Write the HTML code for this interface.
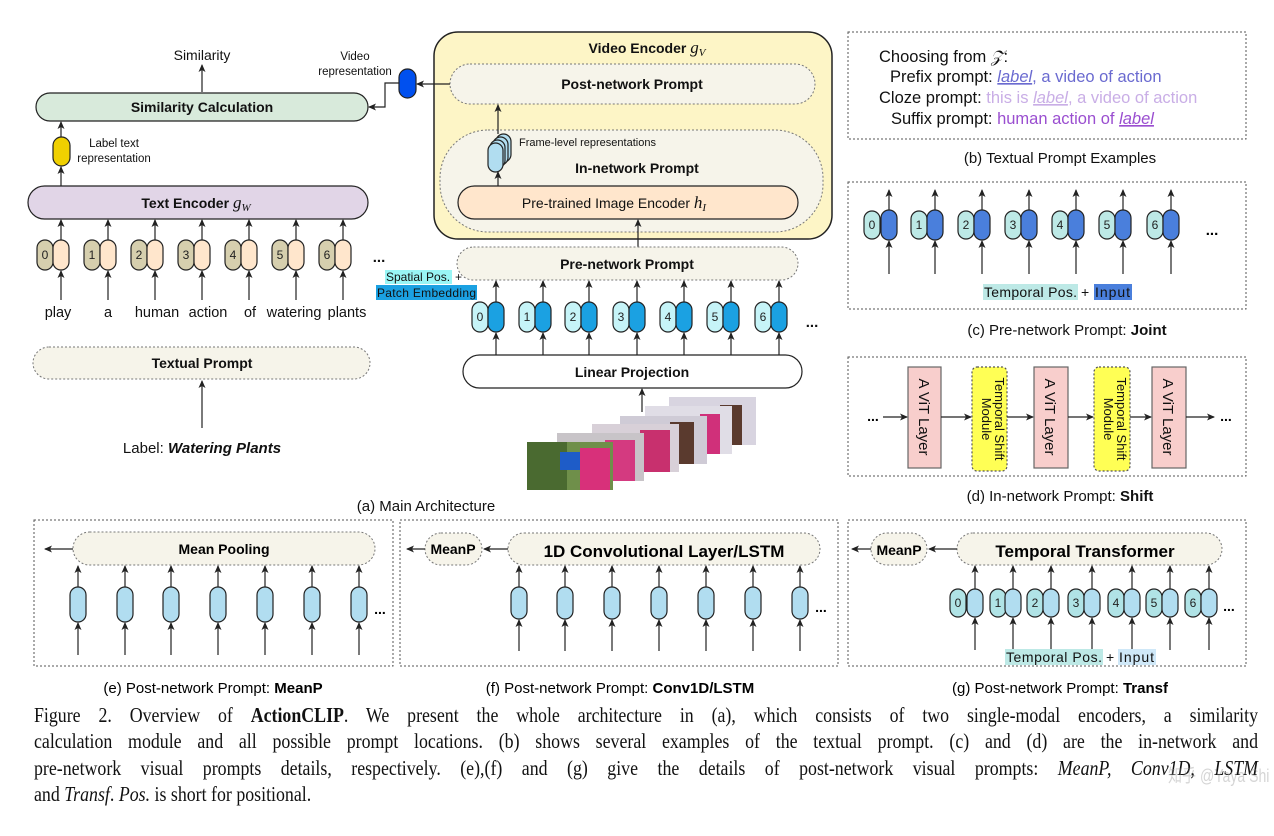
<!DOCTYPE html>
<html><head><meta charset="utf-8"><style>
body{margin:0;background:#fff;width:1274px;height:836px;overflow:hidden;position:relative;font-family:"Liberation Sans",sans-serif}
.cap{position:absolute;left:34px;width:1440px;font-family:"Liberation Serif",serif;font-size:21px;color:#111;transform:scaleX(0.85);transform-origin:0 0}
.cap div{text-align:justify;text-align-last:justify;height:26.3px;white-space:nowrap}
.cap div.last{text-align-last:left}
</style></head><body>
<svg width="1274" height="836" viewBox="0 0 1274 836" style="position:absolute;left:0;top:0" font-family="Liberation Sans, sans-serif">
<defs>
<marker id="a" markerUnits="userSpaceOnUse" markerWidth="8" markerHeight="8" refX="7" refY="4" orient="auto"><path d="M0,0.5 L8,4 L0,7.5 L2,4z" fill="#222"/></marker>
</defs>
<g stroke="#222" stroke-width="1.2" fill="none">
<line x1="202" y1="92" x2="202" y2="65" marker-end="url(#a)"/>
<rect x="36" y="93" width="332" height="28" rx="14" fill="#d8eadb"/>
<line x1="61" y1="137" x2="61" y2="122" marker-end="url(#a)"/>
<rect x="53" y="137" width="17" height="29" rx="8.5" fill="#f0d000"/>
<line x1="61" y1="186" x2="61" y2="167" marker-end="url(#a)"/>
<rect x="28" y="186" width="340" height="33" rx="16.5" fill="#e1d5e7"/>
<rect x="33" y="347" width="337" height="32" rx="16" fill="#f6f4ea" stroke-dasharray="2,2" stroke="#777" stroke-width="1"/>
<line x1="202" y1="428" x2="202" y2="381" marker-end="url(#a)"/>
</g>
<g font-size="14" fill="#111" text-anchor="middle">
<text x="202" y="60">Similarity</text>
<text x="202" y="112" font-weight="bold">Similarity Calculation</text>
<text x="196" y="208" font-weight="bold">Text Encoder <tspan font-family="Liberation Serif" font-style="italic" font-weight="normal" font-size="17">g<tspan font-size="11" dy="3">W</tspan></tspan></text>
<text x="202" y="368" font-weight="bold">Textual Prompt</text>
<text x="202" y="453" font-size="15">Label: <tspan font-weight="bold" font-style="italic">Watering Plants</tspan></text>
<text x="114" y="147" font-size="11.5">Label text</text>
<text x="114" y="162" font-size="11.5">representation</text>
<text x="355" y="60" font-size="11.5">Video</text>
<text x="355" y="75" font-size="11.5">representation</text>
<text x="426" y="511" font-size="15">(a) Main Architecture</text>
<g font-size="14.5">
<text x="58" y="317">play</text><text x="108" y="317">a</text><text x="157" y="317">human</text><text x="208" y="317">action</text><text x="250" y="317">of</text><text x="294" y="317">watering</text><text x="347" y="317">plants</text>
</g>
<text x="379" y="262" font-size="15" font-weight="bold">...</text>
</g>
<g stroke="#222" stroke-width="1.2">
<g fill="#d6cfae"><rect x="37" y="240" width="16" height="30" rx="8"/><rect x="84" y="240" width="16" height="30" rx="8"/><rect x="131" y="240" width="16" height="30" rx="8"/><rect x="178" y="240" width="16" height="30" rx="8"/><rect x="225" y="240" width="16" height="30" rx="8"/><rect x="272" y="240" width="16" height="30" rx="8"/><rect x="319" y="240" width="16" height="30" rx="8"/></g>
<g fill="#ffe6cc"><rect x="53" y="240" width="16" height="30" rx="8"/><rect x="100" y="240" width="16" height="30" rx="8"/><rect x="147" y="240" width="16" height="30" rx="8"/><rect x="194" y="240" width="16" height="30" rx="8"/><rect x="241" y="240" width="16" height="30" rx="8"/><rect x="288" y="240" width="16" height="30" rx="8"/><rect x="335" y="240" width="16" height="30" rx="8"/></g>
<g fill="none" marker-end="url(#a)">
<line x1="61" y1="300" x2="61" y2="271"/><line x1="108" y1="300" x2="108" y2="271"/><line x1="155" y1="300" x2="155" y2="271"/><line x1="202" y1="300" x2="202" y2="271"/><line x1="249" y1="300" x2="249" y2="271"/><line x1="296" y1="300" x2="296" y2="271"/><line x1="343" y1="300" x2="343" y2="271"/>
<line x1="61" y1="240" x2="61" y2="220"/><line x1="108" y1="240" x2="108" y2="220"/><line x1="155" y1="240" x2="155" y2="220"/><line x1="202" y1="240" x2="202" y2="220"/><line x1="249" y1="240" x2="249" y2="220"/><line x1="296" y1="240" x2="296" y2="220"/><line x1="343" y1="240" x2="343" y2="220"/>
</g></g>
<g font-size="12" fill="#222" text-anchor="middle"><text x="45" y="259">0</text><text x="92" y="259">1</text><text x="139" y="259">2</text><text x="186" y="259">3</text><text x="233" y="259">4</text><text x="280" y="259">5</text><text x="327" y="259">6</text></g>

<g stroke="#222" stroke-width="1.2" fill="none">
<rect x="434" y="32" width="398" height="207" rx="24" fill="#fdf5c6" stroke-width="1.5"/>
<rect x="450" y="64" width="365" height="40" rx="20" fill="#f6f4ea" stroke="#777" stroke-dasharray="2,2" stroke-width="1"/>
<rect x="440" y="130" width="383" height="102" rx="48" fill="#f6f4ea" stroke="#777" stroke-dasharray="2,2" stroke-width="1"/>
<rect x="458" y="186" width="340" height="33" rx="16.5" fill="#ffe6cc"/>
<line x1="450" y1="84" x2="417" y2="84" marker-end="url(#a)"/>
<rect x="399" y="69" width="17" height="29" rx="8.5" fill="#0050ef"/>
<polyline points="399,83 385,83 385,107 369,107" marker-end="url(#a)"/>
<line x1="498" y1="134" x2="498" y2="105" marker-end="url(#a)"/>
<line x1="498" y1="186" x2="498" y2="172" marker-end="url(#a)"/>
<rect x="496" y="134" width="15" height="28" rx="7.5" fill="#b1ddf0"/>
<rect x="493" y="137" width="15" height="28" rx="7.5" fill="#b1ddf0"/>
<rect x="490" y="140" width="15" height="28" rx="7.5" fill="#b1ddf0"/>
<rect x="488" y="143" width="15" height="29" rx="7.5" fill="#b1ddf0"/>
<line x1="638" y1="247" x2="638" y2="220" marker-end="url(#a)"/>
<rect x="457" y="247" width="341" height="33" rx="16.5" fill="#f6f4ea" stroke="#777" stroke-dasharray="2,2" stroke-width="1"/>
<rect x="463" y="355" width="339" height="33" rx="16.5" fill="#fff"/>
<line x1="642" y1="412" x2="642" y2="389" marker-end="url(#a)"/>
</g>
<g font-size="14" fill="#111" text-anchor="middle">
<text x="647" y="53" font-weight="bold">Video Encoder <tspan font-family="Liberation Serif" font-style="italic" font-weight="normal" font-size="17">g<tspan font-size="11" dy="3">V</tspan></tspan></text>
<text x="632" y="89" font-weight="bold">Post-network Prompt</text>
<text x="637" y="173" font-weight="bold">In-network Prompt</text>
<text x="519" y="146" font-size="11" text-anchor="start">Frame-level representations</text>
<text x="614" y="208" font-size="14">Pre-trained Image Encoder <tspan font-family="Liberation Serif" font-style="italic" font-size="17">h<tspan font-size="11" dy="3">I</tspan></tspan></text>
<text x="627" y="269" font-weight="bold">Pre-network Prompt</text>
<text x="632" y="377" font-weight="bold">Linear Projection</text>
<text x="812" y="327" font-size="15" font-weight="bold">...</text>
</g>
<rect x="385" y="270" width="67" height="14" fill="#99f5f5"/>
<rect x="376" y="285" width="101" height="15" fill="#1ba1e2"/>
<g font-size="12" fill="#111"><text x="386" y="281">Spatial Pos.</text><text x="455" y="281">+</text><text x="377" y="297" textLength="99">Patch  Embedding</text></g>
<g stroke="#222" stroke-width="1.2">
<g fill="#c6f4f8"><rect x="472" y="302" width="16" height="30" rx="8"/><rect x="519" y="302" width="16" height="30" rx="8"/><rect x="565" y="302" width="16" height="30" rx="8"/><rect x="613" y="302" width="16" height="30" rx="8"/><rect x="660" y="302" width="16" height="30" rx="8"/><rect x="707" y="302" width="16" height="30" rx="8"/><rect x="755" y="302" width="16" height="30" rx="8"/></g>
<g fill="#1ba1e2"><rect x="488" y="302" width="16" height="30" rx="8"/><rect x="535" y="302" width="16" height="30" rx="8"/><rect x="581" y="302" width="16" height="30" rx="8"/><rect x="629" y="302" width="16" height="30" rx="8"/><rect x="676" y="302" width="16" height="30" rx="8"/><rect x="723" y="302" width="16" height="30" rx="8"/><rect x="771" y="302" width="16" height="30" rx="8"/></g>
<g fill="none" marker-end="url(#a)">
<line x1="496" y1="355" x2="496" y2="333"/><line x1="543" y1="355" x2="543" y2="333"/><line x1="589" y1="355" x2="589" y2="333"/><line x1="637" y1="355" x2="637" y2="333"/><line x1="684" y1="355" x2="684" y2="333"/><line x1="731" y1="355" x2="731" y2="333"/><line x1="779" y1="355" x2="779" y2="333"/>
<line x1="496" y1="302" x2="496" y2="281"/><line x1="543" y1="302" x2="543" y2="281"/><line x1="589" y1="302" x2="589" y2="281"/><line x1="637" y1="302" x2="637" y2="281"/><line x1="684" y1="302" x2="684" y2="281"/><line x1="731" y1="302" x2="731" y2="281"/><line x1="779" y1="302" x2="779" y2="281"/>
</g></g>
<g font-size="12" fill="#222" text-anchor="middle"><text x="480" y="321">0</text><text x="527" y="321">1</text><text x="573" y="321">2</text><text x="621" y="321">3</text><text x="668" y="321">4</text><text x="715" y="321">5</text><text x="763" y="321">6</text></g>
<g>
<rect x="669" y="397" width="87" height="48" fill="#d8d4e0"/><rect x="720" y="405" width="22" height="40" fill="#5a3a2e"/>
<rect x="645" y="406" width="87" height="48" fill="#e0dde6"/><rect x="700" y="414" width="20" height="40" fill="#d0307a"/>
<rect x="620" y="416" width="87" height="48" fill="#cfcbd6"/><rect x="670" y="422" width="24" height="42" fill="#5a3a2e"/>
<rect x="592" y="424" width="87" height="48" fill="#d8d0d8"/><rect x="640" y="430" width="30" height="42" fill="#c8306e"/>
<rect x="557" y="433" width="87" height="48" fill="#c8c4c8"/><rect x="605" y="440" width="30" height="41" fill="#d43a80"/>
<rect x="527" y="442" width="86" height="48" fill="#6f8f4a"/><rect x="527" y="442" width="40" height="48" fill="#4a6a30"/><rect x="560" y="452" width="20" height="18" fill="#1e5cc8"/><rect x="580" y="448" width="30" height="42" fill="#d8307a"/>
</g>

<rect x="848" y="32" width="398" height="107" fill="none" stroke="#555" stroke-dasharray="2,2"/>
<g font-size="16.5" fill="#111">
<text x="879" y="62">Choosing from <tspan font-family="Liberation Serif" font-style="italic">𝒵</tspan>:</text>
<text x="890" y="82">Prefix prompt:  <tspan fill="#6a6ad0"><tspan font-style="italic" text-decoration="underline">label</tspan>,  a video of action</tspan></text>
<text x="879" y="103">Cloze prompt: <tspan fill="#c9aee6">this is <tspan font-style="italic" text-decoration="underline">label</tspan>, a video of action</tspan></text>
<text x="891" y="124">Suffix prompt: <tspan fill="#9a4ed0">human action of  <tspan font-style="italic" text-decoration="underline">label</tspan></tspan></text>
</g>
<text x="1060" y="163" font-size="15" text-anchor="middle" fill="#111">(b) Textual Prompt Examples</text>
<rect x="848" y="182" width="398" height="127" fill="none" stroke="#555" stroke-dasharray="2,2"/>
<g stroke="#222" stroke-width="1.2">
<g fill="#bde9e6"><rect x="864" y="211" width="16" height="28" rx="8"/><rect x="911" y="211" width="16" height="28" rx="8"/><rect x="958" y="211" width="16" height="28" rx="8"/><rect x="1005" y="211" width="16" height="28" rx="8"/><rect x="1052" y="211" width="16" height="28" rx="8"/><rect x="1099" y="211" width="16" height="28" rx="8"/><rect x="1147" y="211" width="16" height="28" rx="8"/></g>
<g fill="#4a7fdc"><rect x="881" y="210" width="16" height="30" rx="8"/><rect x="927" y="210" width="16" height="30" rx="8"/><rect x="974" y="210" width="16" height="30" rx="8"/><rect x="1021" y="210" width="16" height="30" rx="8"/><rect x="1068" y="210" width="16" height="30" rx="8"/><rect x="1115" y="210" width="16" height="30" rx="8"/><rect x="1163" y="210" width="16" height="30" rx="8"/></g>
<g fill="none" marker-end="url(#a)">
<line x1="889" y1="274" x2="889" y2="241"/><line x1="935" y1="274" x2="935" y2="241"/><line x1="982" y1="274" x2="982" y2="241"/><line x1="1029" y1="274" x2="1029" y2="241"/><line x1="1076" y1="274" x2="1076" y2="241"/><line x1="1123" y1="274" x2="1123" y2="241"/><line x1="1171" y1="274" x2="1171" y2="241"/>
<line x1="889" y1="210" x2="889" y2="190"/><line x1="935" y1="210" x2="935" y2="190"/><line x1="982" y1="210" x2="982" y2="190"/><line x1="1029" y1="210" x2="1029" y2="190"/><line x1="1076" y1="210" x2="1076" y2="190"/><line x1="1123" y1="210" x2="1123" y2="190"/><line x1="1171" y1="210" x2="1171" y2="190"/>
</g></g>
<g font-size="12" fill="#222" text-anchor="middle"><text x="872" y="229">0</text><text x="919" y="229">1</text><text x="966" y="229">2</text><text x="1013" y="229">3</text><text x="1060" y="229">4</text><text x="1107" y="229">5</text><text x="1155" y="229">6</text></g>
<text x="1212" y="235" font-size="15" font-weight="bold" text-anchor="middle">...</text>
<rect x="983" y="284" width="95" height="16" fill="#bde9e6"/><rect x="1094" y="284" width="38" height="16" fill="#4a7fdc"/>
<g font-size="14" fill="#111"><text x="984" y="297" textLength="93">Temporal Pos.</text><text x="1081" y="297">+</text><text x="1095" y="297" textLength="35">Input</text></g>
<text x="1067" y="335" font-size="15" text-anchor="middle" fill="#111">(c) Pre-network Prompt: <tspan font-weight="bold">Joint</tspan></text>
<rect x="848" y="357" width="398" height="119" fill="none" stroke="#555" stroke-dasharray="2,2"/>
<g stroke="#222" stroke-width="1.2" fill="none">
<rect x="908" y="367" width="33" height="101" fill="#f8cecc" stroke="#666"/>
<rect x="1034" y="367" width="34" height="101" fill="#f8cecc" stroke="#666"/>
<rect x="1152" y="367" width="34" height="101" fill="#f8cecc" stroke="#666"/>
<rect x="972" y="367" width="35" height="104" rx="5" fill="#ffff55" stroke="#555" stroke-dasharray="2,2"/>
<rect x="1094" y="367" width="36" height="104" rx="5" fill="#ffff55" stroke="#555" stroke-dasharray="2,2"/>
<g marker-end="url(#a)"><line x1="883" y1="417" x2="907" y2="417"/><line x1="941" y1="417" x2="971" y2="417"/><line x1="1007" y1="417" x2="1033" y2="417"/><line x1="1068" y1="417" x2="1093" y2="417"/><line x1="1130" y1="417" x2="1151" y2="417"/><line x1="1186" y1="417" x2="1214" y2="417"/></g>
</g>
<g font-size="14" font-weight="bold"><text x="873" y="421" text-anchor="middle">...</text><text x="1226" y="421" text-anchor="middle">...</text></g>
<g font-size="15" fill="#111" text-anchor="middle">
<text transform="translate(919,417) rotate(90)">A ViT Layer</text>
<text transform="translate(1045,417) rotate(90)">A ViT Layer</text>
<text transform="translate(1163,417) rotate(90)">A ViT Layer</text>
<g font-size="13"><text transform="translate(995,419) rotate(90)">Temporal Shift</text><text transform="translate(982,419) rotate(90)">Module</text>
<text transform="translate(1117,419) rotate(90)">Temporal Shift</text><text transform="translate(1104,419) rotate(90)">Module</text></g>
<text x="1060" y="501">(d) In-network Prompt: <tspan font-weight="bold">Shift</tspan></text>
</g>

<rect x="34" y="520" width="359" height="146" fill="none" stroke="#555" stroke-dasharray="2,2"/>
<g stroke="#222" stroke-width="1.2" fill="none">
<rect x="73" y="532" width="302" height="33" rx="16.5" fill="#f6f4ea" stroke="#777" stroke-dasharray="2,2" stroke-width="1"/>
<line x1="73" y1="549" x2="45" y2="549" marker-end="url(#a)"/>
<g fill="#b1ddf0"><rect x="70" y="587" width="16" height="35" rx="8"/><rect x="117" y="587" width="16" height="35" rx="8"/><rect x="163" y="587" width="16" height="35" rx="8"/><rect x="210" y="587" width="16" height="35" rx="8"/><rect x="257" y="587" width="16" height="35" rx="8"/><rect x="304" y="587" width="16" height="35" rx="8"/><rect x="351" y="587" width="16" height="35" rx="8"/></g>
<g marker-end="url(#a)">
<line x1="78" y1="655" x2="78" y2="623"/><line x1="125" y1="655" x2="125" y2="623"/><line x1="171" y1="655" x2="171" y2="623"/><line x1="218" y1="655" x2="218" y2="623"/><line x1="265" y1="655" x2="265" y2="623"/><line x1="312" y1="655" x2="312" y2="623"/><line x1="359" y1="655" x2="359" y2="623"/>
<line x1="78" y1="587" x2="78" y2="566"/><line x1="125" y1="587" x2="125" y2="566"/><line x1="171" y1="587" x2="171" y2="566"/><line x1="218" y1="587" x2="218" y2="566"/><line x1="265" y1="587" x2="265" y2="566"/><line x1="312" y1="587" x2="312" y2="566"/><line x1="359" y1="587" x2="359" y2="566"/>
</g></g>
<text x="224" y="554" font-size="14" font-weight="bold" text-anchor="middle">Mean Pooling</text>
<text x="380" y="614" font-size="14" font-weight="bold" text-anchor="middle">...</text>
<text x="213" y="693" font-size="15" text-anchor="middle">(e) Post-network Prompt: <tspan font-weight="bold">MeanP</tspan></text>
<rect x="400" y="520" width="438" height="146" fill="none" stroke="#555" stroke-dasharray="2,2"/>
<g stroke="#222" stroke-width="1.2" fill="none">
<rect x="425" y="533" width="57" height="32" rx="16" fill="#f6f4ea" stroke="#777" stroke-dasharray="2,2" stroke-width="1"/>
<rect x="508" y="533" width="312" height="32" rx="16" fill="#f6f4ea" stroke="#777" stroke-dasharray="2,2" stroke-width="1"/>
<line x1="508" y1="549" x2="484" y2="549" marker-end="url(#a)"/>
<line x1="425" y1="549" x2="407" y2="549" marker-end="url(#a)"/>
<g fill="#b1ddf0"><rect x="511" y="587" width="16" height="32" rx="8"/><rect x="557" y="587" width="16" height="32" rx="8"/><rect x="604" y="587" width="16" height="32" rx="8"/><rect x="651" y="587" width="16" height="32" rx="8"/><rect x="698" y="587" width="16" height="32" rx="8"/><rect x="745" y="587" width="16" height="32" rx="8"/><rect x="792" y="587" width="16" height="32" rx="8"/></g>
<g marker-end="url(#a)">
<line x1="519" y1="651" x2="519" y2="620"/><line x1="565" y1="651" x2="565" y2="620"/><line x1="612" y1="651" x2="612" y2="620"/><line x1="659" y1="651" x2="659" y2="620"/><line x1="706" y1="651" x2="706" y2="620"/><line x1="753" y1="651" x2="753" y2="620"/><line x1="800" y1="651" x2="800" y2="620"/>
<line x1="519" y1="587" x2="519" y2="566"/><line x1="565" y1="587" x2="565" y2="566"/><line x1="612" y1="587" x2="612" y2="566"/><line x1="659" y1="587" x2="659" y2="566"/><line x1="706" y1="587" x2="706" y2="566"/><line x1="753" y1="587" x2="753" y2="566"/><line x1="800" y1="587" x2="800" y2="566"/>
</g></g>
<text x="453" y="554" font-size="14" font-weight="bold" text-anchor="middle">MeanP</text>
<text x="664" y="557" font-size="17" font-weight="bold" text-anchor="middle">1D Convolutional Layer/LSTM</text>
<text x="821" y="612" font-size="14" font-weight="bold" text-anchor="middle">...</text>
<text x="620" y="693" font-size="15" text-anchor="middle">(f) Post-network Prompt: <tspan font-weight="bold">Conv1D/LSTM</tspan></text>
<rect x="848" y="520" width="398" height="146" fill="none" stroke="#555" stroke-dasharray="2,2"/>
<g stroke="#222" stroke-width="1.2" fill="none">
<rect x="871" y="533" width="56" height="32" rx="16" fill="#f6f4ea" stroke="#777" stroke-dasharray="2,2" stroke-width="1"/>
<rect x="957" y="533" width="265" height="32" rx="16" fill="#f6f4ea" stroke="#777" stroke-dasharray="2,2" stroke-width="1"/>
<line x1="957" y1="549" x2="929" y2="549" marker-end="url(#a)"/>
<line x1="871" y1="549" x2="852" y2="549" marker-end="url(#a)"/>
<g fill="#b0e3e6"><rect x="950" y="589" width="16" height="28" rx="8"/><rect x="990" y="589" width="16" height="28" rx="8"/><rect x="1027" y="589" width="16" height="28" rx="8"/><rect x="1068" y="589" width="16" height="28" rx="8"/><rect x="1108" y="589" width="16" height="28" rx="8"/><rect x="1146" y="589" width="16" height="28" rx="8"/><rect x="1185" y="589" width="16" height="28" rx="8"/></g>
<g fill="#b1ddf0"><rect x="967" y="589" width="16" height="28" rx="8"/><rect x="1005" y="589" width="16" height="28" rx="8"/><rect x="1043" y="589" width="16" height="28" rx="8"/><rect x="1084" y="589" width="16" height="28" rx="8"/><rect x="1124" y="589" width="16" height="28" rx="8"/><rect x="1162" y="589" width="16" height="28" rx="8"/><rect x="1201" y="589" width="16" height="28" rx="8"/></g>
<g marker-end="url(#a)">
<line x1="975" y1="650" x2="975" y2="618"/><line x1="1013" y1="650" x2="1013" y2="618"/><line x1="1051" y1="650" x2="1051" y2="618"/><line x1="1092" y1="650" x2="1092" y2="618"/><line x1="1132" y1="650" x2="1132" y2="618"/><line x1="1170" y1="650" x2="1170" y2="618"/><line x1="1209" y1="650" x2="1209" y2="618"/>
<line x1="975" y1="589" x2="975" y2="566"/><line x1="1013" y1="589" x2="1013" y2="566"/><line x1="1051" y1="589" x2="1051" y2="566"/><line x1="1092" y1="589" x2="1092" y2="566"/><line x1="1132" y1="589" x2="1132" y2="566"/><line x1="1170" y1="589" x2="1170" y2="566"/><line x1="1209" y1="589" x2="1209" y2="566"/>
</g></g>
<g font-size="12" fill="#222" text-anchor="middle"><text x="958" y="607">0</text><text x="998" y="607">1</text><text x="1035" y="607">2</text><text x="1076" y="607">3</text><text x="1116" y="607">4</text><text x="1154" y="607">5</text><text x="1193" y="607">6</text></g>
<text x="1229" y="611" font-size="14" font-weight="bold" text-anchor="middle">...</text>
<text x="899" y="555" font-size="14" font-weight="bold" text-anchor="middle">MeanP</text>
<text x="1085" y="557" font-size="17" font-weight="bold" text-anchor="middle">Temporal Transformer</text>
<rect x="1005" y="649" width="98" height="16" fill="#bde9e6"/><rect x="1118" y="649" width="38" height="16" fill="#cfe8f8"/>
<g font-size="14" fill="#111"><text x="1006" y="662" textLength="96">Temporal Pos.</text><text x="1106" y="662">+</text><text x="1119" y="662" textLength="35">Input</text></g>
<text x="1060" y="693" font-size="15" text-anchor="middle">(g) Post-network Prompt: <tspan font-weight="bold">Transf</tspan></text>
</svg>
<div class="cap" style="top:703px">
<div>Figure 2. Overview of <b>ActionCLIP</b>. We present the whole architecture in (a), which consists of two single-modal encoders, a similarity</div>
<div>calculation module and all possible prompt locations. (b) shows several examples of the textual prompt. (c) and (d) are the in-network and</div>
<div>pre-network visual prompts details, respectively. (e),(f) and (g) give the details of post-network visual prompts: <i>MeanP, Conv1D, LSTM</i></div>
<div class="last">and <i>Transf</i>. <i>Pos.</i> is short for positional.</div>
</div>
<div style="position:absolute;left:1168px;top:762px;font-size:18px;white-space:nowrap;color:rgba(150,150,150,0.4);font-family:'Liberation Sans','Noto Sans CJK SC',sans-serif;transform:scaleX(0.78);transform-origin:0 0">知乎 @Yaya Shi</div>
</body></html>
